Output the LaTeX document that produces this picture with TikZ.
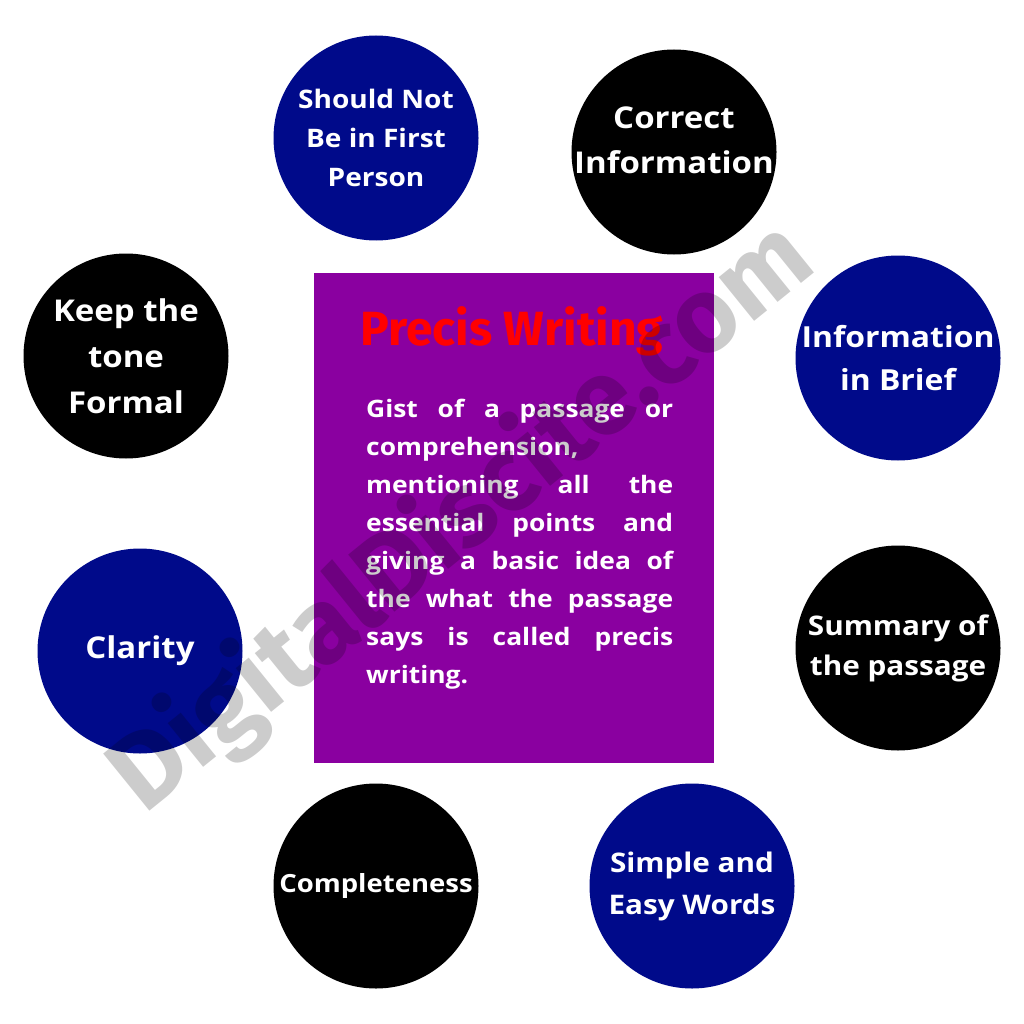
\documentclass[tikz,border=0pt]{standalone}
\usepackage{fontspec}
\setmainfont{Open Sans}[FakeStretch=1.1]
\newfontfamily\firafont{Fira Sans}
\usepackage{xcolor}
\usepackage{tikz}
\definecolor{navyblue}{RGB}{0,10,138}
\definecolor{boxpurple}{RGB}{138,0,160}

\begin{document}
\begin{tikzpicture}[x=1pt,y=-1pt]
            \tikzset{Bubble/.style={%
                    shape=circle,%
                    minimum size=205pt,%
                    inner sep=0pt,%
                    text=white,%
                    align=center,%
                    font=\bfseries,%
                }}
            \tikzset{BlueBubble/.style={Bubble,fill=navyblue}}
            \tikzset{BlackBubble/.style={Bubble,fill=black}}

                \useasboundingbox (0,0) rectangle (1024,1024);
                \fill[white] (0,0) rectangle (1024,1024);

                % centre box
                \node[fill=boxpurple,minimum width=400pt,minimum height=490pt,inner sep=0pt] (box) at (514,518) {};
                \node[text=red,font=\firafont\bfseries\fontsize{48}{52}\selectfont] (title) at (512,331) {Precis Writing};
                \node[text=white,text width=307pt,align=justify,anchor=north west,inner sep=0pt,
                      font=\bfseries\fontsize{24}{38}\selectfont] (gist) at (366,399)
                      {Gist of a passage or\linebreak comprehension,\linebreak mentioning all the\linebreak
                       essential points and\linebreak giving a basic idea of\linebreak the what the passage\linebreak
                       says is called precis\linebreak writing.};

                % bubbles
                \node[BlueBubble,font=\bfseries\fontsize{25.5}{39}\selectfont] (person) at (376,138) {Should Not\\Be in First\\Person};
                \node[BlackBubble] (correct) at (674,152) {};
                \node[text=white,align=center,font=\bfseries\fontsize{30}{45}\selectfont] (correcttext) at ([yshift=12pt]correct.center) {Correct\\Information};
                \node[BlueBubble,font=\bfseries\fontsize{29}{43}\selectfont] (brief) at (898,358) {Information\\in Brief};
                \node[BlackBubble,font=\bfseries\fontsize{27}{40}\selectfont] (summary) at (898,648) {Summary of\\the passage};
                \node[BlueBubble,font=\bfseries\fontsize{27}{42}\selectfont] (simple) at (692,886) {Simple and\\Easy Words};
                \node[BlackBubble,font=\bfseries\fontsize{25}{30}\selectfont] (complete) at (376,886) {Completeness};
                \node[BlueBubble,font=\bfseries\fontsize{30}{36}\selectfont] (clarity) at (140,651) {Clarity};
                \node[BlackBubble,font=\bfseries\fontsize{30}{46}\selectfont] (tone) at (126,356) {Keep the\\tone\\Formal};

                % watermark
                \node[text=black,opacity=0.2,rotate=39,font=\firafont\bfseries\fontsize{106}{106}\selectfont] (mark) at (462,518) {DigitalDiscite.com};
        \end{tikzpicture}
\end{document}
